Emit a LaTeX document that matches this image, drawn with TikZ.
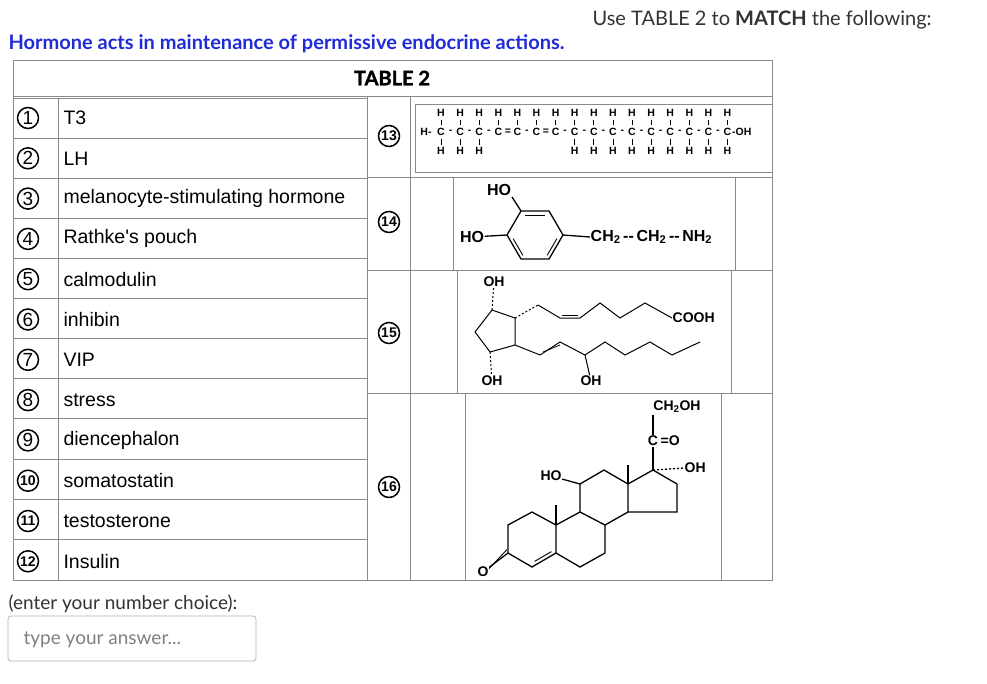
\documentclass[tikz,border=0pt]{standalone}
\usepackage{fontspec}
\usetikzlibrary{calc}
\setmainfont{Lato}
\newfontfamily\arial{Liberation Sans}
\definecolor{txt}{HTML}{333333}
\definecolor{hblue}{HTML}{1F2BD6}
\definecolor{grid}{HTML}{8A8A8A}
\begin{document}
\begin{tikzpicture}[x=1pt,y=-1pt,
  cnum/.style={circle,draw,line width=1.5pt,inner sep=0pt,minimum size=21pt,font=\arial\fontsize{19}{19}\selectfont},
  cnumb/.style={circle,draw,line width=1.5pt,inner sep=0pt,minimum size=21pt,font=\arial\bfseries\fontsize{14}{14}\selectfont},
  item/.style={anchor=west,font=\arial\fontsize{19.5}{19.5}\selectfont,text=black},
  chem/.style={font=\arial\bfseries\fontsize{14}{14}\selectfont,inner sep=0.5pt},
  tiny/.style={font=\arial\bfseries\fontsize{10.5}{10.5}\selectfont,inner sep=0pt},
  bond/.style={line width=1.3pt,black},
  gl/.style={grid,line width=0.8pt}]
\useasboundingbox (0,0) rectangle (987,683);
\fill[white] (0,0) rectangle (987,683);
\node[anchor=west,text=txt,font=\fontsize{20}{20}\selectfont] (use) at (589,20) {Use TABLE 2 to \textbf{MATCH} the following:};
\node[anchor=west,text=hblue,font=\bfseries\fontsize{20}{20}\selectfont] (hdr) at (5,44) {Hormone acts in maintenance of permissive endocrine actions.};
% table frame
\draw[gl] (13,60) rectangle (772,580);
\draw[gl] (13,96) -- (772,96);
\node[font=\bfseries\fontsize{20}{20}\selectfont,text=black] (t2) at (392,78) {\addfontfeature{FakeBold=1.5}TABLE 2};
\draw[gl] (13,98) -- (367,98);
\draw[gl] (367,96) -- (367,580);
\draw[gl] (410,96) -- (410,580);
\foreach \y in {138,178,218,258,298,338,378,418,459,499,539}{\draw[gl] (13,\y) -- (367,\y);}
\draw[gl] (58,98) -- (58,580);
% left items
\foreach \i/\t in {1/T3,2/LH,3/melanocyte-stimulating hormone,4/Rathke's pouch,5/calmodulin,6/inhibin,7/VIP,8/stress,9/diencephalon,10/somatostatin,11/testosterone,12/Insulin}{
  \pgfmathsetmacro{\yy}{118+(\i-1)*40.3}
  \ifnum\i<10
    \node[cnum] (n\i) at (28,\yy) {\i};
  \else
    \node[cnumb] (n\i) at (28,\yy) {\i};
  \fi
  \node[item] (it\i) at (60,\yy) {\t};
}
% middle numbers
\node[cnumb] (n13) at (389,136) {13};
\node[cnumb] (n14) at (389,222) {14};
\node[cnumb] (n15) at (389,333) {15};
\node[cnumb] (n16) at (389,487) {16};
\draw[gl] (367,177) -- (772,177);
\draw[gl] (367,270) -- (772,270);
\draw[gl] (367,393) -- (772,393);
% row 13 inner
\draw[gl,line width=0.6pt] (415,104) -- (772,104);
\draw[gl,line width=0.6pt] (415,104) -- (415,172) -- (772,172);
\node[tiny] (h0) at (426,132) {H-};
\foreach \i in {1,...,16}{
  \pgfmathsetmacro{\xx}{441+(\i-1)*19.1}
  \node[tiny] (c\i) at (\xx,132) {C};
  \node[tiny] (ht\i) at (\xx,113) {H};
  \draw[line width=0.7pt] (\xx,119.5) -- (\xx,125);
  \pgfmathtruncatemacro{\lw}{(\i<4)||(\i>7)}
  \ifnum\lw=1
    \node[tiny] (hb\i) at (\xx,151) {H};
    \draw[line width=0.7pt] (\xx,139) -- (\xx,144.5);
  \fi
  \ifnum\i<16
    \pgfmathsetmacro{\xm}{\xx+9.55}
    \ifnum\i=4 \node[tiny] (b\i) at (\xm,131.5) {=};
    \else\ifnum\i=6 \node[tiny] (b\i) at (\xm,131.5) {=};
    \else \node[tiny] (b\i) at (\xm,131.5) {-};\fi\fi
  \fi
}
\node[tiny,anchor=west] (oh13) at (732,132) {-OH};
% row 14
\draw[gl,line width=0.6pt] (453,177) rectangle (735,270);
\coordinate (r1) at (549,211); \coordinate (r2) at (521,211);
\coordinate (r3) at (507,235); \coordinate (r4) at (521,259);
\coordinate (r5) at (549,259); \coordinate (r6) at (563,235);
\draw[bond] (r1)--(r2)--(r3)--(r4)--(r5)--(r6)--cycle;
\draw[bond,line width=0.9pt] ($(r2)!0.15!(r1)+(0,4)$) -- ($(r2)!0.85!(r1)+(0,4)$);
\draw[bond,line width=0.9pt] ($(r3)!0.15!(r4)+(4,0)$) -- ($(r3)!0.85!(r4)+(4,0)$);
\draw[bond,line width=0.9pt] ($(r5)!0.15!(r6)+(-4,0)$) -- ($(r5)!0.85!(r6)+(-4,0)$);
\node[chem,font=\arial\bfseries\fontsize{16}{16}\selectfont] (ho1) at (499,190) {HO};
\node[chem,font=\arial\bfseries\fontsize{16}{16}\selectfont] (ho2) at (472,237) {HO};
\draw[bond] (r2) -- (512,197);
\draw[bond] (ho2) -- (r3);
\node[chem,anchor=west,font=\arial\bfseries\fontsize{16}{16}\selectfont] (ch) at (590,237) {CH\textsubscript{2}\,--\,CH\textsubscript{2}\,--\,NH\textsubscript{2}};
\draw[bond] (r6) -- (ch.west);
% row 15
\draw[gl,line width=0.6pt] (457,270) rectangle (731,393);
\coordinate (p1) at (492,310); \coordinate (p2) at (515,318);
\coordinate (p3) at (515,345); \coordinate (p4) at (490,352);
\coordinate (p5) at (475,332);
\draw[bond,line width=1pt] (p1)--(p2)--(p3)--(p4)--(p5)--cycle;
\node[chem] (oha) at (494,282) {OH};
\node[chem] (ohb) at (492,381) {OH};
\node[chem] (ohc) at (591,381) {OH};
\node[chem,anchor=west] (cooh) at (672,318) {COOH};
\draw[bond,line width=1pt,dash pattern=on 2pt off 2pt] (p1) -- (oha);
\draw[bond,line width=1pt,dash pattern=on 2pt off 2pt] (p4) -- (ohb);
\draw[bond,line width=1pt,dash pattern=on 2pt off 2pt] (p2) -- (538,305);
\draw[bond,line width=1pt] (538,305) -- (560,318) -- (580,318) -- (600,303) -- (620,318) -- (645,303) -- (cooh.west);
\draw[line width=0.8pt] (562,315) -- (578,315);
\draw[bond,line width=1pt] (p3) -- (540,355) -- (560,342) -- (585,355) -- (605,342) -- (625,355) -- (650,342) -- (672,355) -- (700,342);
\draw[line width=0.8pt] (543,352) -- (560,345);
\draw[bond,line width=1pt] (585,355) -- (ohc);
% row 16
\draw[gl,line width=0.6pt] (465,393) rectangle (721,580);
\coordinate (a1) at (532,512); \coordinate (a2) at (556,525);
\coordinate (a3) at (556,553); \coordinate (a4) at (532,567);
\coordinate (a5) at (508,553); \coordinate (a6) at (508,525);
\coordinate (b1) at (580,512); \coordinate (b2) at (605,525);
\coordinate (b3) at (605,553); \coordinate (b4) at (580,567);
\coordinate (c1) at (580,484); \coordinate (c2) at (604,470);
\coordinate (c3) at (628,484); \coordinate (c4) at (628,512);
\coordinate (d1) at (653,470); \coordinate (d2) at (677,484);
\coordinate (d3) at (677,512);
\draw[bond] (a1)--(a2)--(a3)--(a4)--(a5)--(a6)--cycle;
\draw[bond] (a2)--(b1)--(b2)--(b3)--(b4)--(a3);
\draw[bond] (b1)--(c1)--(c2)--(c3)--(c4)--(b2);
\draw[bond] (c3)--(d1)--(d2)--(d3)--(c4);
\draw[line width=0.9pt] ($(a3)!0.15!(a4)+(-1,-3.5)$) -- ($(a3)!0.85!(a4)+(-1,-3.5)$);
\draw[bond] (a2) -- (556,505);
\draw[bond] (c3) -- (628,465);
\node[chem] (o16) at (483,572) {O};
\draw[bond] (a5) -- (o16);
\draw[line width=0.9pt] ($(a5)+(-1,-3.5)$) -- ($(o16.east)+(0,-3.5)$);
\node[chem] (ho16) at (551,476) {HO};
\draw[bond] (ho16) -- (c1);
\node[chem] (cc) at (653,441) {C};
\node[chem,anchor=west] (eqo) at (660,441) {=O};
\node[chem] (ch2oh) at (677,407) {CH\textsubscript{2}OH};
\draw[bond] (d1) -- (cc);
\draw[bond] (cc) -- (653,415);
\node[chem,anchor=west] (oh16) at (684,468) {OH};
\draw[bond,dash pattern=on 2pt off 2pt] (d1) -- (oh16.west);
% bottom
\node[anchor=west,text=txt,font=\fontsize{19}{19}\selectfont] (enter) at (5,604) {(enter your number choice):};
\draw[gray!60,rounded corners=3pt,line width=0.8pt] (8,616) rectangle (256,661);
\node[anchor=west,text=gray,font=\fontsize{19}{19}\selectfont] (ans) at (20,640) {type your answer...};
\end{tikzpicture}
\end{document}
